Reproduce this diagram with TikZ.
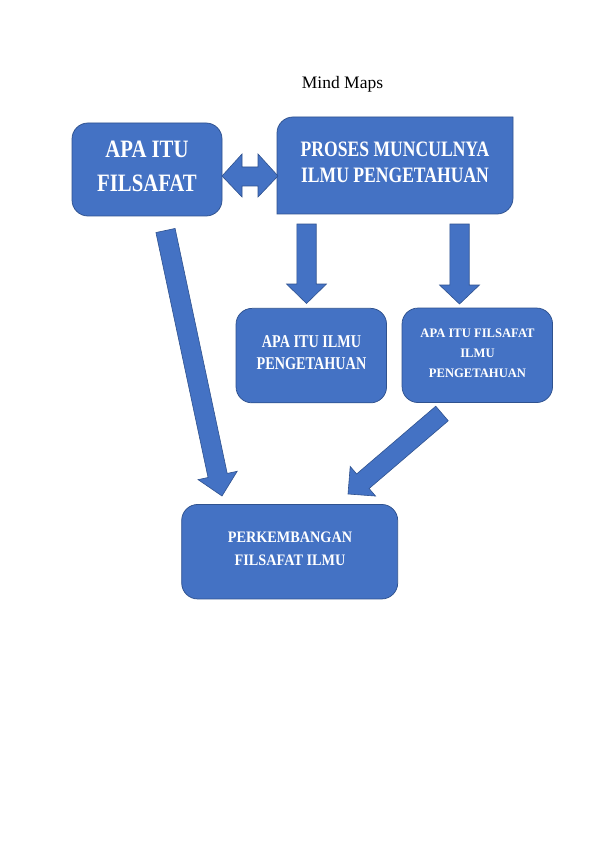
\documentclass[tikz,border=0pt]{standalone}
\usepackage{fontspec}
\setmainfont{Liberation Serif}
\usepackage{graphicx}
\usetikzlibrary{calc}
\definecolor{bfill}{HTML}{4472C4}
\definecolor{bline}{HTML}{2F528F}
\tikzset{
  boxsty/.style={fill=bfill, draw=bline, line width=0.75pt},
  rbox/.style={boxsty, rectangle, rounded corners=16pt, inner sep=0pt},
  lbl/.style={text=white, inner sep=0pt, font=\bfseries},
  blockarr/.style={fill=bfill, draw=bline, line width=0.6pt, line join=miter},
}
\newcommand\blockarrow[5]{%
  \coordinate (bah) at ($(#2)!#5!(#1)$);
  \filldraw[blockarr] ($(#1)!#3!90:(#2)$) -- ($(bah)!#3!90:(#2)$) -- ($(bah)!#4!90:(#2)$) -- (#2)
    -- ($(bah)!#4!-90:(#2)$) -- ($(bah)!#3!-90:(#2)$) -- ($(#1)!#3!-90:(#2)$) -- cycle;}
\newcommand\boxlines[4]{\scalebox{#1}[1]{\fontsize{#2}{#3}\selectfont\begin{tabular}{@{}c@{}}#4\end{tabular}}}
\begin{document}
\begin{tikzpicture}[x=1pt,y=-1pt]
\fill[white] (0,0) rectangle (595,842);
\useasboundingbox (0,0) rectangle (595,842);

\node[anchor=base, font=\fontsize{17.5}{20}\selectfont] (title) at (342.5,89) {Mind Maps};

% boxes
\node[rbox, minimum width=150pt, minimum height=93pt] (boxA) at (147,169.5) {};
\filldraw[boxsty] (513,117) -- (293,117) .. controls (284.2,117) and (277,124.2) .. (277,133)
  -- (277,214) -- (497,214) .. controls (505.8,214) and (513,206.8) .. (513,198) -- cycle;
\coordinate (boxB) at (395,165.5);
\node[rbox, minimum width=150.5pt, minimum height=94.5pt] (boxC) at (311.3,355.6) {};
\node[rbox, minimum width=150.5pt, minimum height=94.5pt] (boxD) at (477.3,355.3) {};
\node[rbox, minimum width=216pt, minimum height=94.5pt] (boxE) at (289.7,551.7) {};

% labels
\node[lbl] (A) at (147,168.2) {\boxlines{0.83}{25}{34}{APA ITU\\FILSAFAT}};
\node[lbl] (B) at (395,164.8) {\boxlines{0.80}{22}{26}{PROSES MUNCULNYA\\ILMU PENGETAHUAN}};
\node[lbl] (C) at (311.5,353.6) {\boxlines{0.79}{18}{22}{APA ITU ILMU\\PENGETAHUAN}};
\node[lbl] (D) at (477.5,353) {\boxlines{0.97}{13}{20}{APA ITU FILSAFAT\\ILMU\\PENGETAHUAN}};
\node[lbl] (E) at (290,548.9) {\boxlines{0.89}{16}{23}{PERKEMBANGAN\\FILSAFAT ILMU}};

% double arrow between A and B
\coordinate (dl) at (222,176);
\coordinate (dr) at (278,176);
\filldraw[blockarr] (dl) -- (242,154) -- (242,167) -- (258,167) -- (258,154) -- (dr)
  -- (258,197) -- (258,186) -- (242,186) -- (242,197) -- cycle;

% block arrows
\coordinate (a1t) at (306.5,224); \coordinate (a1h) at (306.5,303.5);
\blockarrow{a1t}{a1h}{9.7pt}{20pt}{19.5pt}
\coordinate (a2t) at (459.5,224); \coordinate (a2h) at (459.5,304);
\blockarrow{a2t}{a2h}{9.7pt}{20pt}{19pt}
\coordinate (a3t) at (165.5,230.5); \coordinate (a3h) at (222,496);
\blockarrow{a3t}{a3h}{9.8pt}{20pt}{21pt}
\coordinate (a4t) at (442,413.5); \coordinate (a4h) at (348,494);
\blockarrow{a4t}{a4h}{9.6pt}{19.5pt}{19.6pt}
\end{tikzpicture}
\end{document}
